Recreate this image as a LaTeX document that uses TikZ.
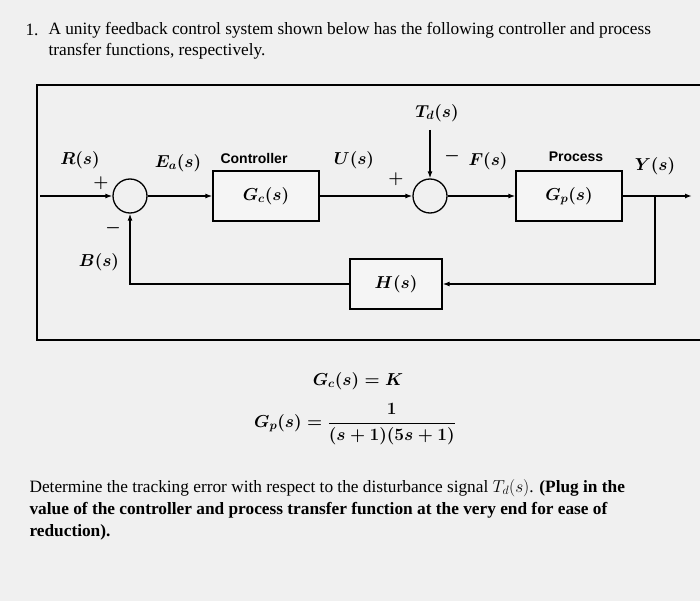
\documentclass[tikz,border=0pt]{standalone}
\usepackage{amsmath}
\usepackage{fontspec}
\setmainfont{Liberation Serif}
\setsansfont{Liberation Sans}
\usetikzlibrary{arrows.meta}
\begin{document}
\begin{tikzpicture}[x=1pt,y=-1pt,
  blk/.style={draw,line width=1.3pt,minimum width=106pt,minimum height=50pt,fill=gray!8,font=\fontsize{17}{20}\selectfont\boldmath},
  sum/.style={draw,circle,line width=1.3pt,minimum size=34pt,inner sep=0pt},
  sig/.style={line width=1.6pt,-{Latex[length=7pt,width=5pt]}},
  lbl/.style={font=\fontsize{17}{20}\selectfont\boldmath},
  ptxt/.style={font=\fontsize{17.3}{20}\selectfont,anchor=west}]
\fill[gray!12] (0,0) rectangle (700,601);
\useasboundingbox (0,0) rectangle (700,601);
% question text
\node[ptxt] (n1) at (22,30) {1.};
\node[ptxt] (q1) at (45,30) {A unity feedback control system shown below has the following controller and process};
\node[ptxt] (q2) at (45,51) {transfer functions, respectively.};
% frame
\draw[line width=1.3pt] (37,85) rectangle (702,340);
% blocks
\node[sum] (s1) at (130,196) {};
\node[sum] (s2) at (430,196) {};
\node[blk] (gc) at (266,196) {$G_c(s)$};
\node[blk] (gp) at (569,196) {$G_p(s)$};
\node[blk,minimum width=92pt] (h) at (396,284) {$H(s)$};
\coordinate (in) at (40,196);
\coordinate (out) at (692,196);
\coordinate (br) at (655,196);
\coordinate (brd) at (655,284);
\coordinate (fl) at (130,284);
\coordinate (td) at (430,130);
% connectors
\draw[sig] (in) -- (s1);
\draw[sig] (s1) -- (gc);
\draw[sig] (gc) -- (s2);
\draw[sig] (s2) -- (gp);
\draw[sig] (gp) -- (out);
\draw[sig] (br) -- (brd) -- (h);
\draw[sig] (h) -- (fl) -- (s1);
\draw[sig] (td) -- (s2);
% labels
\node[lbl] (rl) at (80,160) {$R(s)$};
\node[lbl] (p1) at (101,183) {$+$};
\node[lbl] (m1) at (113,228) {$-$};
\node[lbl] (el) at (178,163) {$E_a(s)$};
\node[font=\sffamily\bfseries\fontsize{14}{16}\selectfont] (cl) at (254,158) {Controller};
\node[lbl] (ul) at (354,160) {$U(s)$};
\node[lbl] (p2) at (396,179) {$+$};
\node[lbl] (m2) at (452,156) {$-$};
\node[lbl] (tl) at (437,113) {$T_d(s)$};
\node[lbl] (fl2) at (488,161) {$F(s)$};
\node[font=\sffamily\bfseries\fontsize{14}{16}\selectfont] (pl) at (576,157) {Process};
\node[lbl] (yl) at (655,166) {$Y(s)$};
\node[lbl] (bl) at (99,262) {$B(s)$};
% equations
\node[lbl] (e1) at (358,381) {$G_c(s) = K$};
\node[lbl] (e2) at (355,424) {$G_p(s) = \dfrac{1}{(s+1)(5s+1)}$};
% bottom text
\node[ptxt] (b1) at (26,488) {Determine the tracking error with respect to the disturbance signal $T_d(s)$. \textbf{(Plug in the}};
\node[ptxt] (b2) at (26,510) {\textbf{value of the controller and process transfer function at the very end for ease of}};
\node[ptxt] (b3) at (26,532) {\textbf{reduction).}};
\end{tikzpicture}
\end{document}
